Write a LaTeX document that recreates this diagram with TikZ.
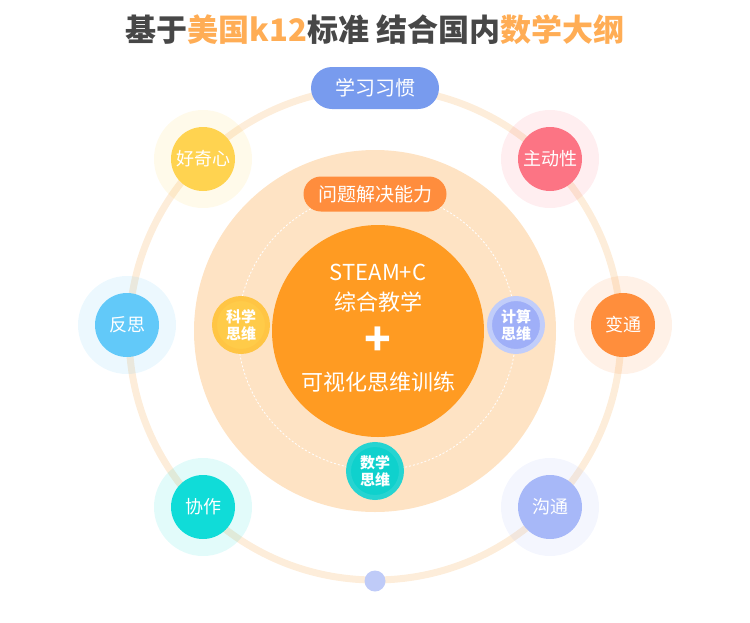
\documentclass[tikz,border=0pt]{standalone}
\usepackage{fontspec}
\setmainfont{Noto Sans CJK SC}
\definecolor{titlegray}{HTML}{474747}
\definecolor{titleorange}{HTML}{FFAD55}
\definecolor{ringline}{HTML}{FDEDDA}
\definecolor{peach}{HTML}{FEE3C4}
\definecolor{coreorange}{HTML}{FF9B22}
\definecolor{habitblue}{HTML}{789BEE}
\definecolor{solveorange}{HTML}{FF8D3D}
\definecolor{curiousyellow}{HTML}{FFD350}
\definecolor{activered}{HTML}{FC7484}
\definecolor{reflectblue}{HTML}{62C9F9}
\definecolor{flexorange}{HTML}{FF8E3C}
\definecolor{teamteal}{HTML}{10DCD8}
\definecolor{talkblue}{HTML}{A7B8F8}
\definecolor{dotblue}{HTML}{BFCBF8}
\tikzset{
  halo/.style={circle, minimum size=98pt, inner sep=0pt, fill=#1, fill opacity=0.12},
  ringnode/.style={circle, minimum size=64pt, inner sep=0pt, fill=#1, text=white,
    font=\fontsize{18}{18}\selectfont},
  thinknode/.style n args={2}{circle, minimum size=53pt, inner sep=0pt, fill=#1, draw=#2,
    line width=5pt, text=white, align=center, font=\fontsize{15}{17}\selectfont\bfseries},
  pill/.style={rounded rectangle, fill=#1, text=white, inner sep=0pt}
}
\usetikzlibrary{shapes.misc}
\begin{document}
\begin{tikzpicture}[x=1pt,y=-1pt]
\useasboundingbox (0,0) rectangle (750,622);
% title
\node (title) at (375,30) {\fontsize{31}{31}\selectfont\bfseries
  \textcolor{titlegray}{基于}\textcolor{titleorange}{美国k12}\textcolor{titlegray}{标准 结合国内}\textcolor{titleorange}{数学大纲}};
% outer ring
\draw[ringline, line width=7pt] (375,334) circle (246);
\node[circle, fill=dotblue, minimum size=21pt, inner sep=0pt] (dot) at (375,581) {};
\node[pill=habitblue, minimum width=128pt, minimum height=42pt,
  font=\fontsize{20}{20}\selectfont] (habit) at (375,88) {学习习惯};
% habits on the ring
\foreach \name/\pos/\col/\txt in {
    curious/{(203,159)}/curiousyellow/好奇心,
    active/{(550,159)}/activered/主动性,
    reflect/{(127,325)}/reflectblue/反思,
    flex/{(623,325)}/flexorange/变通,
    team/{(203,507)}/teamteal/协作,
    talk/{(550,507)}/talkblue/沟通} {
  \node[halo=\col] (\name halo) at \pos {};
  \node[ringnode=\col] (\name) at \pos {\txt};
}
% inner part
\fill[peach] (375,331) circle (181);
\draw[white, line width=0.8pt, dash pattern=on 2pt off 2pt] (377,331) circle (139);
\node[pill=solveorange, minimum width=143pt, minimum height=35pt,
  font=\fontsize{19}{19}\selectfont] (solve) at (375,194) {问题解决能力};
\node[circle, fill=coreorange, minimum size=212pt, inner sep=0pt] (core) at (378,331) {};
\node[text=white, font=\fontsize{22}{22}\selectfont] (steam) at (378,272) {STEAM+C};
\node[text=white, font=\fontsize{22}{22}\selectfont] (teach) at (378,302) {综合教学};
\node[text=white, font=\fontsize{44}{44}\selectfont\bfseries] (plus) at (378,341) {+};
\node[text=white, font=\fontsize{22}{22}\selectfont] (visual) at (378,382) {可视化思维训练};
\node[thinknode={curiousyellow!85!coreorange}{curiousyellow!75!coreorange}] (science) at (241,325) {科学\\思维};
\node[thinknode={talkblue!95!blue}{talkblue!70!white}] (compute) at (516,325) {计算\\思维};
\node[thinknode={teamteal!95!black}{teamteal!90!white!95!black}] (math) at (375,471) {数学\\思维};
\end{tikzpicture}
\end{document}
